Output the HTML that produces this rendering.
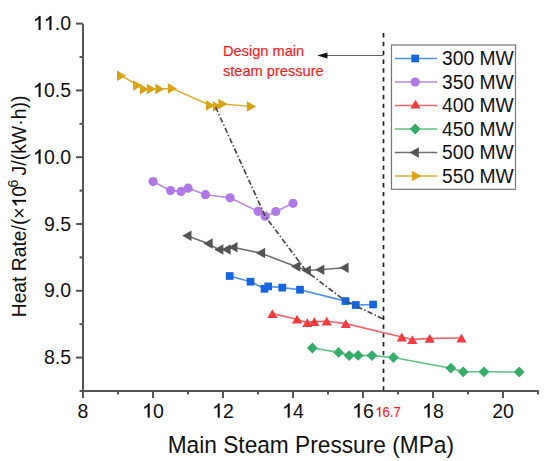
<!DOCTYPE html>
<html><head><meta charset="utf-8"><style>
html,body{margin:0;padding:0;background:#fff;}
svg{display:block;}
text{font-family:"Liberation Sans",sans-serif;fill:#111;}
.tk{font-size:19.5px;}
.lg{font-size:19.3px;}
.ann{font-size:14px;fill:#ff1a1a;stroke:#ff1a1a;stroke-width:0.15px;}
.red{font-size:13.6px;fill:#ff1a1a;stroke:#ff1a1a;stroke-width:0.12px;}
.ttl{font-size:22.7px;}
.ttl2{font-size:20px;}
.sup{font-size:14px;}
</style></head><body>
<svg width="550" height="461" viewBox="0 0 550 461">
<line x1="83" y1="23.9" x2="83" y2="392" stroke="#555555" stroke-width="2"/>
<line x1="82" y1="391" x2="538.6" y2="391" stroke="#555555" stroke-width="2"/>
<line x1="79.50" y1="391.00" x2="83" y2="391.00" stroke="#555555" stroke-width="2"/>
<line x1="76.00" y1="357.60" x2="83" y2="357.60" stroke="#555555" stroke-width="2"/>
<text transform="translate(71,364.10) scale(1,1.05)" text-anchor="end" class="tk">8.5</text>
<line x1="79.50" y1="324.20" x2="83" y2="324.20" stroke="#555555" stroke-width="2"/>
<line x1="76.00" y1="290.80" x2="83" y2="290.80" stroke="#555555" stroke-width="2"/>
<text transform="translate(71,297.30) scale(1,1.05)" text-anchor="end" class="tk">9.0</text>
<line x1="79.50" y1="257.40" x2="83" y2="257.40" stroke="#555555" stroke-width="2"/>
<line x1="76.00" y1="224.00" x2="83" y2="224.00" stroke="#555555" stroke-width="2"/>
<text transform="translate(71,230.50) scale(1,1.05)" text-anchor="end" class="tk">9.5</text>
<line x1="79.50" y1="190.60" x2="83" y2="190.60" stroke="#555555" stroke-width="2"/>
<line x1="76.00" y1="157.20" x2="83" y2="157.20" stroke="#555555" stroke-width="2"/>
<text transform="translate(71,163.70) scale(1,1.05)" text-anchor="end" class="tk"> 0.0</text>
<path transform="translate(71,163.70) scale(1,1.05) translate(-37.953,0) scale(0.00952,-0.00952)" d="M790 0H590V1100Q525 1040 420 985T223 905V1075Q375 1145 488 1240T655 1409H790Z" fill="#111" stroke="#111" stroke-width="21.0"/>
<line x1="79.50" y1="123.80" x2="83" y2="123.80" stroke="#555555" stroke-width="2"/>
<line x1="76.00" y1="90.40" x2="83" y2="90.40" stroke="#555555" stroke-width="2"/>
<text transform="translate(71,96.90) scale(1,1.05)" text-anchor="end" class="tk"> 0.5</text>
<path transform="translate(71,96.90) scale(1,1.05) translate(-37.953,0) scale(0.00952,-0.00952)" d="M790 0H590V1100Q525 1040 420 985T223 905V1075Q375 1145 488 1240T655 1409H790Z" fill="#111" stroke="#111" stroke-width="21.0"/>
<line x1="79.50" y1="57.00" x2="83" y2="57.00" stroke="#555555" stroke-width="2"/>
<line x1="76.00" y1="23.60" x2="83" y2="23.60" stroke="#555555" stroke-width="2"/>
<text transform="translate(71,30.10) scale(1,1.05)" text-anchor="end" class="tk">  .0</text>
<path transform="translate(71,30.10) scale(1,1.05) translate(-37.953,0) scale(0.00952,-0.00952)" d="M790 0H590V1100Q525 1040 420 985T223 905V1075Q375 1145 488 1240T655 1409H790Z" fill="#111" stroke="#111" stroke-width="21.0"/>
<path transform="translate(71,30.10) scale(1,1.05) translate(-27.108,0) scale(0.00952,-0.00952)" d="M790 0H590V1100Q525 1040 420 985T223 905V1075Q375 1145 488 1240T655 1409H790Z" fill="#111" stroke="#111" stroke-width="21.0"/>
<line x1="83.00" y1="391" x2="83.00" y2="398.00" stroke="#555555" stroke-width="2"/>
<text transform="translate(83.00,417.6) scale(1,1.05)" text-anchor="middle" class="tk">8</text>
<line x1="118.00" y1="391" x2="118.00" y2="394.50" stroke="#555555" stroke-width="2"/>
<line x1="153.00" y1="391" x2="153.00" y2="398.00" stroke="#555555" stroke-width="2"/>
<text transform="translate(153.00,417.6) scale(1,1.05)" text-anchor="middle" class="tk"> 0</text>
<path transform="translate(153.00,417.6) scale(1,1.05) translate(-10.845,0) scale(0.00952,-0.00952)" d="M790 0H590V1100Q525 1040 420 985T223 905V1075Q375 1145 488 1240T655 1409H790Z" fill="#111" stroke="#111" stroke-width="21.0"/>
<line x1="188.00" y1="391" x2="188.00" y2="394.50" stroke="#555555" stroke-width="2"/>
<line x1="223.00" y1="391" x2="223.00" y2="398.00" stroke="#555555" stroke-width="2"/>
<text transform="translate(223.00,417.6) scale(1,1.05)" text-anchor="middle" class="tk"> 2</text>
<path transform="translate(223.00,417.6) scale(1,1.05) translate(-10.845,0) scale(0.00952,-0.00952)" d="M790 0H590V1100Q525 1040 420 985T223 905V1075Q375 1145 488 1240T655 1409H790Z" fill="#111" stroke="#111" stroke-width="21.0"/>
<line x1="258.00" y1="391" x2="258.00" y2="394.50" stroke="#555555" stroke-width="2"/>
<line x1="293.00" y1="391" x2="293.00" y2="398.00" stroke="#555555" stroke-width="2"/>
<text transform="translate(293.00,417.6) scale(1,1.05)" text-anchor="middle" class="tk"> 4</text>
<path transform="translate(293.00,417.6) scale(1,1.05) translate(-10.845,0) scale(0.00952,-0.00952)" d="M790 0H590V1100Q525 1040 420 985T223 905V1075Q375 1145 488 1240T655 1409H790Z" fill="#111" stroke="#111" stroke-width="21.0"/>
<line x1="328.00" y1="391" x2="328.00" y2="394.50" stroke="#555555" stroke-width="2"/>
<line x1="363.00" y1="391" x2="363.00" y2="398.00" stroke="#555555" stroke-width="2"/>
<text transform="translate(363.00,417.6) scale(1,1.05)" text-anchor="middle" class="tk"> 6</text>
<path transform="translate(363.00,417.6) scale(1,1.05) translate(-10.845,0) scale(0.00952,-0.00952)" d="M790 0H590V1100Q525 1040 420 985T223 905V1075Q375 1145 488 1240T655 1409H790Z" fill="#111" stroke="#111" stroke-width="21.0"/>
<line x1="398.00" y1="391" x2="398.00" y2="394.50" stroke="#555555" stroke-width="2"/>
<line x1="433.00" y1="391" x2="433.00" y2="398.00" stroke="#555555" stroke-width="2"/>
<text transform="translate(433.00,417.6) scale(1,1.05)" text-anchor="middle" class="tk"> 8</text>
<path transform="translate(433.00,417.6) scale(1,1.05) translate(-10.845,0) scale(0.00952,-0.00952)" d="M790 0H590V1100Q525 1040 420 985T223 905V1075Q375 1145 488 1240T655 1409H790Z" fill="#111" stroke="#111" stroke-width="21.0"/>
<line x1="468.00" y1="391" x2="468.00" y2="394.50" stroke="#555555" stroke-width="2"/>
<line x1="503.00" y1="391" x2="503.00" y2="398.00" stroke="#555555" stroke-width="2"/>
<text transform="translate(503.00,417.6) scale(1,1.05)" text-anchor="middle" class="tk">20</text>
<line x1="538.00" y1="391" x2="538.00" y2="394.50" stroke="#555555" stroke-width="2"/>
<line x1="383.5" y1="33" x2="383.5" y2="390.5" stroke="#222" stroke-width="1.7" stroke-dasharray="4.4 4.43"/>
<line x1="326" y1="55.5" x2="383.4" y2="55.5" stroke="#666" stroke-width="1.1"/>
<polygon points="317.2,55.5 327.5,52.5 327.5,58.5" fill="#111"/>
<polyline points="229.7,276.0 250.5,281.7 264.5,288.8 268.2,286.4 282.3,287.6 300.0,289.7 345.5,301.1 355.8,305.0 373.1,304.5" fill="none" stroke="#4a93ec" stroke-width="1.6"/>
<polyline points="153.1,181.5 170.5,190.6 181.0,191.4 188.1,188.2 205.5,194.7 230.1,197.8 258.1,211.3 265.2,216.2 275.8,211.5 293.0,203.3" fill="none" stroke="#b98ae9" stroke-width="1.6"/>
<polyline points="272.4,313.6 297.0,319.2 307.3,322.6 314.3,321.5 326.7,321.2 345.8,323.6 401.8,337.0 412.3,339.6 429.7,338.4 461.4,338.0" fill="none" stroke="#f66468" stroke-width="1.6"/>
<polyline points="312.4,348.0 338.6,352.4 349.2,355.6 358.2,355.4 372.0,355.6 393.4,357.5 450.9,368.2 463.2,371.8 484.0,371.8 519.2,372.0" fill="none" stroke="#5ec08a" stroke-width="1.6"/>
<polyline points="186.9,235.7 208.1,243.6 218.8,249.6 226.1,249.6 232.9,247.3 260.5,253.0 295.7,266.5 306.3,270.5 319.7,269.7 344.0,267.7" fill="none" stroke="#707070" stroke-width="1.6"/>
<polyline points="121.6,75.8 137.7,85.4 144.4,89.2 151.4,89.0 159.9,89.0 172.4,88.5 210.5,105.4 217.5,106.6 223.0,104.0 251.5,106.5" fill="none" stroke="#ddb038" stroke-width="1.6"/>
<rect x="225.85" y="272.15" width="7.70" height="7.70" fill="#1466e0"/>
<rect x="246.65" y="277.85" width="7.70" height="7.70" fill="#1466e0"/>
<rect x="260.65" y="284.95" width="7.70" height="7.70" fill="#1466e0"/>
<rect x="264.35" y="282.55" width="7.70" height="7.70" fill="#1466e0"/>
<rect x="278.45" y="283.75" width="7.70" height="7.70" fill="#1466e0"/>
<rect x="296.15" y="285.85" width="7.70" height="7.70" fill="#1466e0"/>
<rect x="341.65" y="297.25" width="7.70" height="7.70" fill="#1466e0"/>
<rect x="351.95" y="301.15" width="7.70" height="7.70" fill="#1466e0"/>
<rect x="369.25" y="300.65" width="7.70" height="7.70" fill="#1466e0"/>
<circle cx="153.10" cy="181.50" r="4.60" fill="#b07ae6"/>
<circle cx="170.50" cy="190.60" r="4.60" fill="#b07ae6"/>
<circle cx="181.00" cy="191.40" r="4.60" fill="#b07ae6"/>
<circle cx="188.10" cy="188.20" r="4.60" fill="#b07ae6"/>
<circle cx="205.50" cy="194.70" r="4.60" fill="#b07ae6"/>
<circle cx="230.10" cy="197.80" r="4.60" fill="#b07ae6"/>
<circle cx="258.10" cy="211.30" r="4.60" fill="#b07ae6"/>
<circle cx="265.20" cy="216.20" r="4.60" fill="#b07ae6"/>
<circle cx="275.80" cy="211.50" r="4.60" fill="#b07ae6"/>
<circle cx="293.00" cy="203.30" r="4.60" fill="#b07ae6"/>
<polygon points="272.40,309.20 277.50,318.00 267.30,318.00" fill="#f23c41"/>
<polygon points="297.00,314.80 302.10,323.60 291.90,323.60" fill="#f23c41"/>
<polygon points="307.30,318.20 312.40,327.00 302.20,327.00" fill="#f23c41"/>
<polygon points="314.30,317.10 319.40,325.90 309.20,325.90" fill="#f23c41"/>
<polygon points="326.70,316.80 331.80,325.60 321.60,325.60" fill="#f23c41"/>
<polygon points="345.80,319.20 350.90,328.00 340.70,328.00" fill="#f23c41"/>
<polygon points="401.80,332.60 406.90,341.40 396.70,341.40" fill="#f23c41"/>
<polygon points="412.30,335.20 417.40,344.00 407.20,344.00" fill="#f23c41"/>
<polygon points="429.70,334.00 434.80,342.80 424.60,342.80" fill="#f23c41"/>
<polygon points="461.40,333.60 466.50,342.40 456.30,342.40" fill="#f23c41"/>
<polygon points="312.40,342.60 317.80,348.00 312.40,353.40 307.00,348.00" fill="#34ad6b"/>
<polygon points="338.60,347.00 344.00,352.40 338.60,357.80 333.20,352.40" fill="#34ad6b"/>
<polygon points="349.20,350.20 354.60,355.60 349.20,361.00 343.80,355.60" fill="#34ad6b"/>
<polygon points="358.20,350.00 363.60,355.40 358.20,360.80 352.80,355.40" fill="#34ad6b"/>
<polygon points="372.00,350.20 377.40,355.60 372.00,361.00 366.60,355.60" fill="#34ad6b"/>
<polygon points="393.40,352.10 398.80,357.50 393.40,362.90 388.00,357.50" fill="#34ad6b"/>
<polygon points="450.90,362.80 456.30,368.20 450.90,373.60 445.50,368.20" fill="#34ad6b"/>
<polygon points="463.20,366.40 468.60,371.80 463.20,377.20 457.80,371.80" fill="#34ad6b"/>
<polygon points="484.00,366.40 489.40,371.80 484.00,377.20 478.60,371.80" fill="#34ad6b"/>
<polygon points="519.20,366.60 524.60,372.00 519.20,377.40 513.80,372.00" fill="#34ad6b"/>
<polygon points="182.30,235.70 191.50,230.45 191.50,240.95" fill="#555555"/>
<polygon points="203.50,243.60 212.70,238.35 212.70,248.85" fill="#555555"/>
<polygon points="214.20,249.60 223.40,244.35 223.40,254.85" fill="#555555"/>
<polygon points="221.50,249.60 230.70,244.35 230.70,254.85" fill="#555555"/>
<polygon points="228.30,247.30 237.50,242.05 237.50,252.55" fill="#555555"/>
<polygon points="255.90,253.00 265.10,247.75 265.10,258.25" fill="#555555"/>
<polygon points="291.10,266.50 300.30,261.25 300.30,271.75" fill="#555555"/>
<polygon points="301.70,270.50 310.90,265.25 310.90,275.75" fill="#555555"/>
<polygon points="315.10,269.70 324.30,264.45 324.30,274.95" fill="#555555"/>
<polygon points="339.40,267.70 348.60,262.45 348.60,272.95" fill="#555555"/>
<polygon points="126.20,75.80 117.00,70.55 117.00,81.05" fill="#d8a314"/>
<polygon points="142.30,85.40 133.10,80.15 133.10,90.65" fill="#d8a314"/>
<polygon points="149.00,89.20 139.80,83.95 139.80,94.45" fill="#d8a314"/>
<polygon points="156.00,89.00 146.80,83.75 146.80,94.25" fill="#d8a314"/>
<polygon points="164.50,89.00 155.30,83.75 155.30,94.25" fill="#d8a314"/>
<polygon points="177.00,88.50 167.80,83.25 167.80,93.75" fill="#d8a314"/>
<polygon points="215.10,105.40 205.90,100.15 205.90,110.65" fill="#d8a314"/>
<polygon points="222.10,106.60 212.90,101.35 212.90,111.85" fill="#d8a314"/>
<polygon points="227.60,104.00 218.40,98.75 218.40,109.25" fill="#d8a314"/>
<polygon points="256.10,106.50 246.90,101.25 246.90,111.75" fill="#d8a314"/>
<polyline points="215.6,107.1 265.2,216.2 306.3,271.2 345.5,301.1 383.4,319" fill="none" stroke="#484848" stroke-width="1.7" stroke-dasharray="5.4 2.3 1.4 2.3"/>
<rect x="391.5" y="45" width="124" height="144.3" fill="#fff" stroke="#777" stroke-width="1.2"/>
<line x1="394.8" y1="58.50" x2="437.2" y2="58.50" stroke="#4a93ec" stroke-width="1.6"/>
<rect x="411.35" y="54.65" width="7.70" height="7.70" fill="#1466e0"/>
<text transform="translate(442,65.00) scale(1,1.05)" class="lg">300 MW</text>
<line x1="394.8" y1="82.00" x2="437.2" y2="82.00" stroke="#b98ae9" stroke-width="1.6"/>
<circle cx="415.20" cy="82.00" r="4.60" fill="#b07ae6"/>
<text transform="translate(442,88.50) scale(1,1.05)" class="lg">350 MW</text>
<line x1="394.8" y1="105.50" x2="437.2" y2="105.50" stroke="#f66468" stroke-width="1.6"/>
<polygon points="415.50,99.63 420.60,108.43 410.40,108.43" fill="#f23c41"/>
<text transform="translate(442,112.00) scale(1,1.05)" class="lg">400 MW</text>
<line x1="394.8" y1="129.00" x2="437.2" y2="129.00" stroke="#5ec08a" stroke-width="1.6"/>
<polygon points="415.20,123.60 420.60,129.00 415.20,134.40 409.80,129.00" fill="#34ad6b"/>
<text transform="translate(442,135.50) scale(1,1.05)" class="lg">450 MW</text>
<line x1="394.8" y1="152.50" x2="437.2" y2="152.50" stroke="#707070" stroke-width="1.6"/>
<polygon points="409.60,152.50 418.80,147.25 418.80,157.75" fill="#555555"/>
<text transform="translate(442,159.00) scale(1,1.05)" class="lg">500 MW</text>
<line x1="394.8" y1="176.00" x2="437.2" y2="176.00" stroke="#ddb038" stroke-width="1.6"/>
<polygon points="421.30,176.00 412.10,170.75 412.10,181.25" fill="#d8a314"/>
<text transform="translate(442,182.50) scale(1,1.05)" class="lg">550 MW</text>
<text transform="translate(223,55.8) scale(1.045,1)" class="ann">Design main</text>
<text transform="translate(223,75.8) scale(1.045,1)" class="ann">steam pressure</text>
<text transform="translate(375.2,416.7) scale(0.97,1.06)" text-anchor="start" class="red"> 6.7</text>
<path transform="translate(375.2,416.7) scale(0.97,1.06) translate(0.000,0) scale(0.00664,-0.00664)" d="M790 0H590V1100Q525 1040 420 985T223 905V1075Q375 1145 488 1240T655 1409H790Z" fill="#ff1a1a" stroke="#ff1a1a" stroke-width="18.1"/>
<text transform="translate(167.7,452.5) scale(1,1.07)" class="ttl">Main Steam Pressure (MPa)</text>
<text transform="translate(26,317.3) rotate(-90) scale(0.965,1)" text-anchor="start" class="ttl2">Heat Rate/(× 0</text>
<path transform="translate(26,317.3) rotate(-90) scale(0.965,1) translate(113.945,0) scale(0.00977,-0.00977)" d="M790 0H590V1100Q525 1040 420 985T223 905V1075Q375 1145 488 1240T655 1409H790Z" fill="#111" stroke="#111" stroke-width="20.5"/>
<text transform="translate(18,187.6) rotate(-90)" class="sup">6</text>
<text transform="translate(26,175.5) rotate(-90) scale(0.974,1)" class="ttl2">J/(kW·h))</text>
</svg>
</body></html>
